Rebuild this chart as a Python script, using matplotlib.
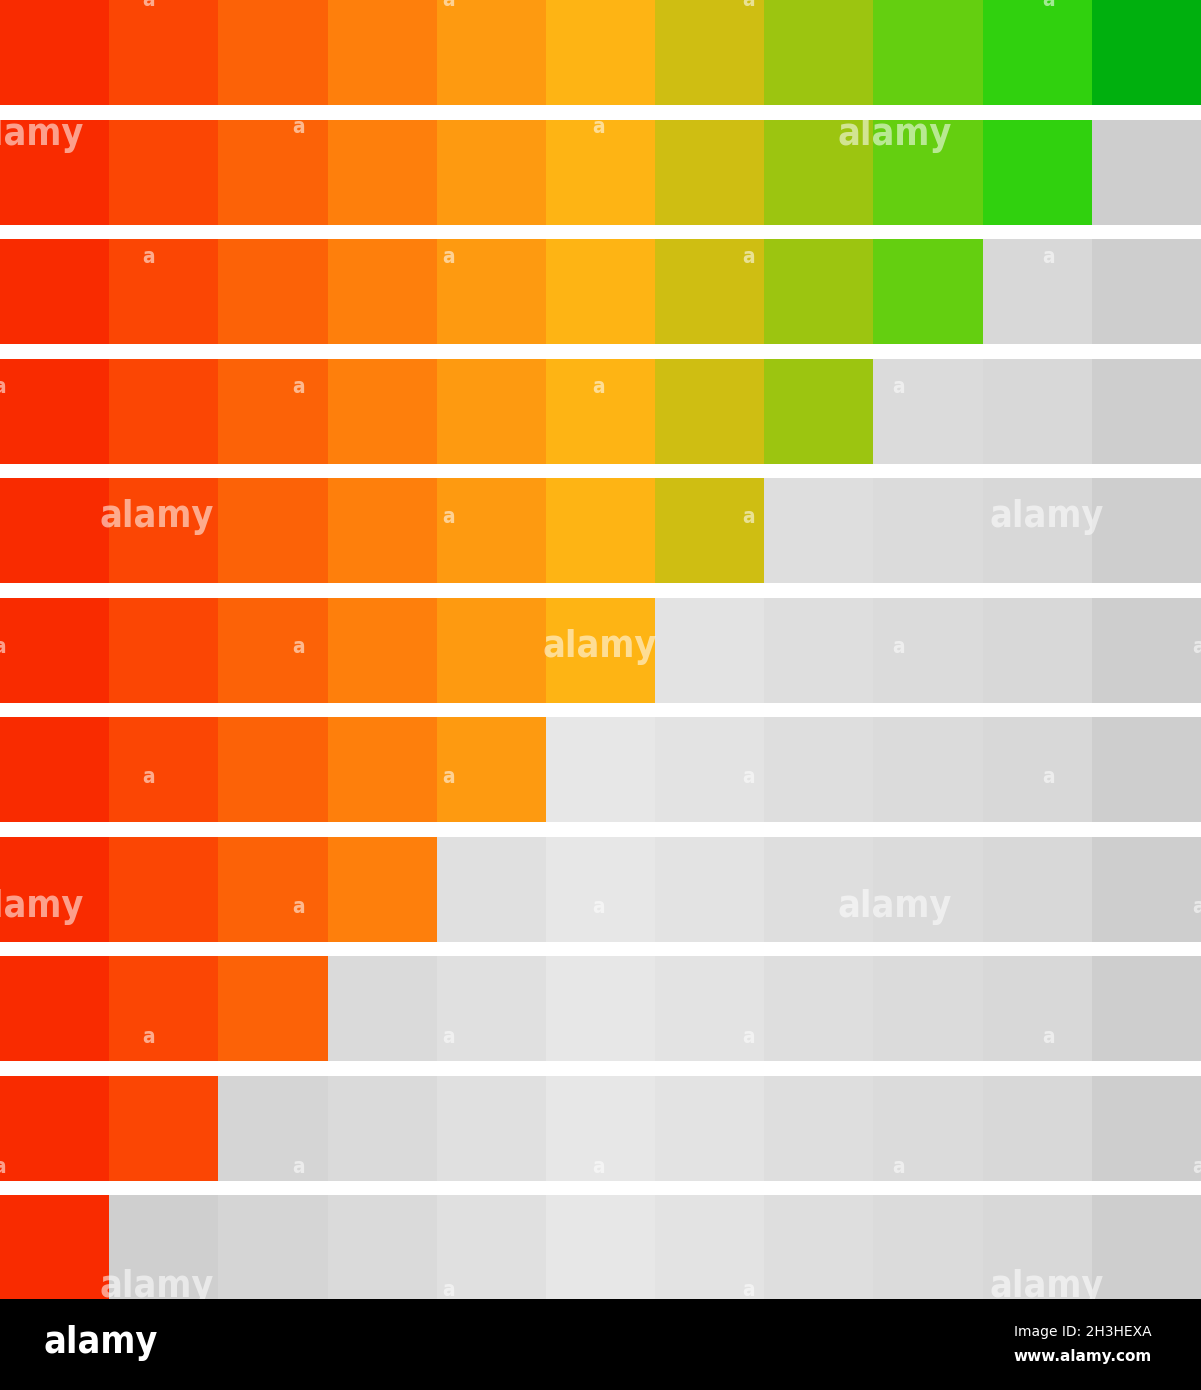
import matplotlib.pyplot as plt

# level bars: row i shows (11 - i) coloured cells, the rest grey
levels = [11, 10, 9, 8, 7, 6, 5, 4, 3, 2, 1]
level_colors = ['#F92B00', '#FB4604', '#FC6207', '#FE7F0C', '#FE9A10', '#FEB414',
                '#CFBE12', '#9CC510', '#64CF10', '#30D10E', '#00B00E']
grey_colors = ['#CCCCCC', '#CFCFCF', '#D5D5D5', '#DADADA', '#E0E0E0', '#E7E7E7',
               '#E3E3E3', '#DEDEDE', '#DBDBDB', '#D8D8D8', '#CECECE']

# watermark positions (pixel coords of the original picture)
big_marks = [(27, 135), (895, 135), (157, 517), (1047, 517), (600, 647),
             (27, 907), (895, 907), (157, 1287), (1047, 1287)]
small_marks = [(149, 0), (449, 0), (749, 0), (1049, 0), (299, 127), (599, 127),
               (149, 257), (449, 257), (749, 257), (1049, 257),
               (0, 387), (299, 387), (599, 387), (899, 387), (449, 517), (749, 517),
               (0, 647), (299, 647), (899, 647), (1199, 647),
               (149, 777), (449, 777), (749, 777), (1049, 777),
               (299, 907), (599, 907), (1199, 907),
               (149, 1037), (449, 1037), (749, 1037), (1049, 1037),
               (0, 1167), (299, 1167), (599, 1167), (899, 1167), (1199, 1167),
               (449, 1290), (749, 1290)]

W, H = 1201, 1390
banner = 91
fig = plt.figure(figsize=(W / 100, H / 100), dpi=100)
fig.patch.set_facecolor('white')

ax = fig.add_axes([0, banner / H, 1, 1 - banner / H])
n = len(level_colors)
cell = W / n
pitch = 119.5
bar_h = 105
for i, lv in enumerate(levels):
    for j in range(n):
        c = level_colors[j] if j < lv else grey_colors[j]
        ax.barh(i * pitch, cell, left=j * cell, height=bar_h, align='edge',
                color=c, linewidth=0)
ax.set_xlim(0, W)
ax.set_ylim(H - banner, 0)
ax.axis('off')

wm = dict(color='white', alpha=0.55, fontweight='bold', family='DejaVu Sans',
          stretch='condensed', ha='center', va='center')
for x, y in big_marks:
    ax.text(x, y, 'alamy', fontsize=27, **wm)
for x, y in small_marks:
    ax.text(x, y, 'a', fontsize=15, **wm)

# bottom banner
bx = fig.add_axes([0, 0, 1, banner / H])
bx.set_facecolor('black')
bx.set_xlim(0, W)
bx.set_ylim(banner, 0)
bx.set_xticks([])
bx.set_yticks([])
for s in bx.spines.values():
    s.set_visible(False)
bx.text(101, 44, 'alamy', color='white', fontsize=27, fontweight='bold',
        family='DejaVu Sans', stretch='condensed', ha='center', va='center')
bx.text(1152, 33, 'Image ID: 2H3HEXA', color='white', fontsize=10,
        family='DejaVu Sans', ha='right', va='center')
bx.text(1152, 57, 'www.alamy.com', color='white', fontsize=11, fontweight='bold',
        family='DejaVu Sans', ha='right', va='center')

fig.savefig('out.png', dpi=100)
